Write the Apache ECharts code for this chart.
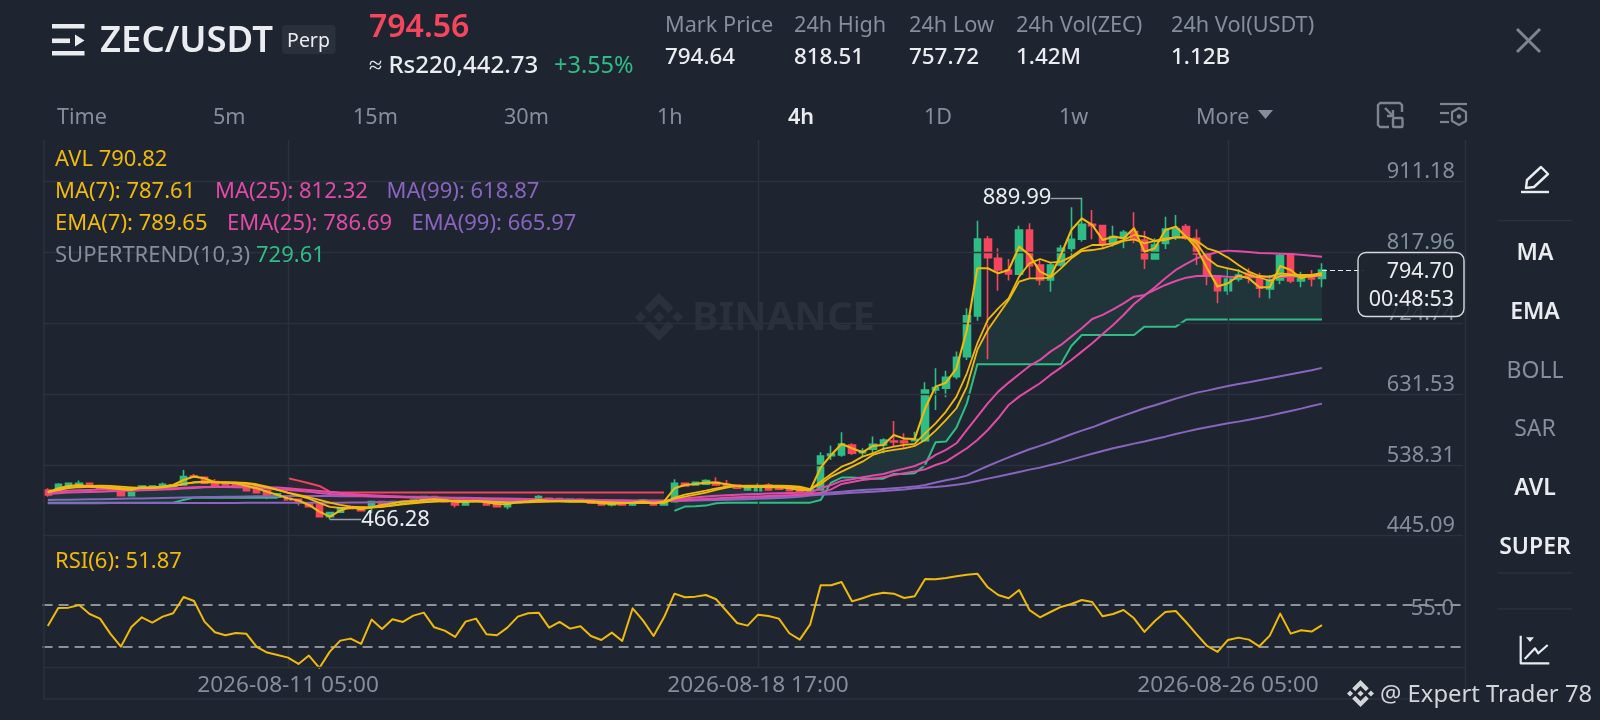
<!DOCTYPE html>
<html><head><meta charset="utf-8">
<script src="https://cdn.jsdelivr.net/npm/echarts@6/dist/echarts.min.js"></script>
<style>html,body{margin:0;padding:0;background:#1e2530}#c{width:1600px;height:720px}</style>
</head><body><div id="c"></div>
<script>
const tickIndexes=[23,68,113];
const timeLabels=['2026-08-11 05:00','2026-08-18 17:00','2026-08-26 05:00'];
const priceTicks=[911.18,817.96,724.74,631.53,538.31,445.09];
const rsiBands=[55,48.55];
const rsiLabels=[55];
// [open, close, low, high]
const candles=[
[505.2,498.6,496.4,507.4],[504.3,512.7,503,514],[509.6,514,508.7,515],[510.5,514,509.6,517.5],[514,510.5,509.6,514.5],[510.5,507.4,507,511],[508.7,505.2,504.5,509.6],[505.2,497.7,497,506],[497.7,501.7,497,502.5],[506.1,510.5,505.5,511.5],
[508.7,510.5,508,511],[510.5,512.7,510,514.9],[509.6,511.8,509,512.5],[511.8,522.8,511,531.5],[523.6,521.9,521,526.3],[521.9,514,513.5,522.5],[516.2,509.6,509,519.7],[514,511.8,511,514.9],[514,510.5,510,514.9],[511.8,504.3,503.5,512.5],
[508.7,501.7,501,509.6],[504.3,498.6,492.9,505],[495.6,500,495,500.8],[494.2,492,491,495],[492.9,488.5,484.6,493.5],[487.7,483.3,482.5,488.5],[486.8,470.1,469.5,487.7],[470.1,475.4,466.28,476],[475.8,481.1,475,482],[483.3,480.6,480,484],
[482.4,478,477.5,483],[483.3,489.9,474.5,490.7],[489.9,485.5,485,490.7],[486.8,489.9,486,490.7],[487.7,489.9,487,490.5],[488.5,492,488,492.9],[492,496.4,491,497.5],[496.4,492,491.5,497],[494.2,489.9,489,495],[489.9,485.5,482,490.5],
[485.5,489.9,485,490.5],[489.9,492,489.5,492.9],[489.9,485.5,485,490.5],[487.7,483.3,483,488.5],[483.3,487.7,479.8,488],[488.5,492,488,492.9],[489.9,492,489.5,492.5],[492.9,496.4,492.5,498.6],[494.2,491.2,490.7,494.7],[494,491.2,490.8,494.5],
[490.7,492.9,490.5,493.5],[492.9,490.7,490.3,493.4],[492,487.7,487.2,492.5],[489.9,485.5,485,490.3],[485.5,487.7,483.3,488],[489.9,485.5,485,490.3],[485.5,488.5,484.1,489],[488.5,492,488,492.5],[488.5,485.5,485,489],[485.5,489.9,485,490.5],
[489.9,514,489.5,519.3],[514,510.5,510,514.5],[511.8,515.3,511,516],[512.7,517.5,512,519.3],[515.3,511.8,511,521.9],[512.7,509.6,509,518.4],[511.8,507.4,507,512.5],[505.2,509.6,505,510],[504.3,510.5,504,514],[511.8,505.2,504.5,514],
[510.5,506.1,505.5,511],[508.7,504.3,504,509],[507.4,503,502.5,508],[503,506.1,502.5,506.5],[505.2,550,504.3,554.8],[550.4,552.6,544.7,563.6],[551.3,565.8,549.1,581.2],[564.5,553.5,551.3,566.7],[554.4,556.6,550,560.1],[558.8,565.4,553.5,575.5],
[564.5,571,553.5,573.3],[569.7,568.4,562.3,596.1],[569.7,567.6,560.1,579.8],[570.2,571.9,568.9,582],[570.2,636.9,569.7,647],[636.9,640,610.6,665.4],[639.1,653.6,627.2,662.3],[654.5,679.9,650.9,687.4],[680.8,734.4,676.4,744.4],[734.4,835.7,728.2,859.9],
[835.7,811.2,677.3,839.7],[810.3,794.9,767.7,823.4],[794.9,789.6,780.9,809.4],[789.2,847.6,788.3,853.3],[847.6,800.6,783.1,856.4],[801.5,781.7,774.7,808.1],[781.7,801.5,766.4,803.7],[801.5,823.4,799.3,827.8],[823.4,835.3,812.5,877.4],[835.3,855,832.2,889.99],
[855,853.3,835.3,873.9],[853.3,830,823.4,853.8],[830,838.8,825.7,853.3],[837.9,844.5,823.4,847.6],[845.4,835.3,830,870.8],[834.4,809.8,796.2,846.3],[809.4,827.8,809,836.6],[830,848.9,822.6,865.1],[837.9,848.9,834.4,867.3],[852,836.6,834.4,855.5],
[836.6,816,801.5,848.5],[816,787.4,774.7,819],[787.4,767.7,751,788.3],[767.7,783.1,762,797.1],[783.1,788.3,779.6,795.8],[790.5,785.3,777.4,797.1],[785.3,770.8,758.5,791.4],[769.9,781.7,757.2,788.3],[781.7,813.8,776,818.2],[816,780.4,777.4,816.5],
[780.4,786.1,772.1,792.7],[788.3,783.1,773,794.9],[783.9,794.7,772.1,803.7]];
const avl=[501.7,507.4,510.5,511.8,509.6,508.7,507.4,506.1,505.2,508.7,508.3,509.6,511.8,518.4,522.8,520.6,515.3,514.9,514,510.5,507.4,503,498.6,494.2,491.2,485.5,476.7,470.1,478,482.4,479.8,482.4,485.5,487.7,489.9,490.7,492,492.9,492,489.9,489.4,490.7,489,486.8,486.3,489.4,490.3,492,490.7,490.3,489.9,489.9,489,487.7,486.8,487.7,488.5,489.9,487.7,489.9,507.4,511.8,513.1,514.9,514.9,512.7,510.5,508.7,509.6,508.7,508.7,507.4,505.2,505.2,534.6,551.3,565.8,560.1,554.8,563.2,564.5,577.6,572.8,572.4,612.8,641.3,646.5,665.4,715.9,797.1,797.1,790.5,794.9,825.7,814.7,792.7,786.1,814.7,847.6,862.9,854.2,834.4,838.8,836.6,849.8,819,823.4,847.6,852,838.8,823.4,797.1,773,777.4,787.4,783.9,772.1,772.1,800.2,794.9,783.9,788.3,790.82];
const ma7=[503,506.1,508.3,509.6,510.5,510.9,510.5,509.6,508.7,507.8,507.8,508.7,510.5,513.1,514.9,515.7,515.3,515.3,515.3,514.4,512.7,509.6,505.2,501.7,498.6,495.6,492,488.5,485.5,483.3,482.4,482.4,483.3,485,486.8,488.5,489.5,490.3,491,491,490.7,490.5,490.2,489.5,488.9,488.9,488.9,489.4,489.9,490.4,490.7,490.7,490.3,489.4,488.8,488.5,488,488,488,488.2,493.8,496.4,499,501.7,505.2,508.3,510.5,510.9,510.9,511,511,510.5,509.6,506.3,513.1,522.8,529.4,535.9,542.5,551.3,555.7,557.9,560.1,563.2,571,583.3,597.4,612.8,641.3,689.6,715.9,735.7,755.4,779.6,783.9,783.9,784.8,797.1,810.3,819.9,821.2,823.4,827.8,833.1,835.3,830,833.1,836.6,837.9,837.9,833.5,823.4,819,811.2,801.5,792.7,787,786.1,790.5,789.2,788.3,788.3,787.61];
const ema7=[502.5,505,507.5,508.8,509.2,509.2,508.7,507.8,507.3,507.8,508.3,509,510,512.8,515.5,516.2,515.6,515.3,514.8,513.4,511.4,508.7,505.2,501.3,497.8,493.8,488.3,483,481.7,481.9,481.2,481.8,483,484.6,486.2,487.4,488.9,489.8,490.3,490.2,490,490.1,489.9,489,488.4,488.7,489.1,490,490.2,490.3,490.2,490.1,489.8,489.2,488.6,488.3,488.3,488.7,488.4,488.8,495.1,499,501.7,504.3,507.4,509.6,510.5,510,510,509.6,509.4,508.8,507.9,506,516.2,526.3,535.9,541.2,549.1,553.5,559.2,562.3,564.5,565.8,579.8,593,608.4,628.1,658.8,698.4,729.1,744.4,757.6,786.1,803.7,809.4,804.6,805.9,812.5,822.1,827.8,827.8,830,834.4,841,838.8,833.1,834.4,837.9,837.9,830,810.3,800.2,797.1,794,788.3,785.3,780.4,787,788.3,786.1,786.1,789.65];
const ma25=[500,500.8,501.7,502.2,502.6,503,503.4,503.9,504.3,504.8,505.2,505.7,506.1,507,507.8,508.7,509.2,509.6,509.6,509.6,509.2,508.7,508.3,507.4,506.1,505,503.9,502.6,501.3,500,499,498.2,497.7,497,496.4,495.6,494.9,494.6,494.4,494.2,494,494,493.7,493.5,493.2,492.9,492.6,492.4,492.2,492,491.8,491.6,491.4,491.2,491,490.8,490.6,490.5,490.4,490.4,491,491.8,492.5,493.2,494,494.8,495.5,496.1,496.7,497.3,497.8,498.2,498.8,499.5,501.7,506,513.1,515.8,518.4,520.1,521.9,525,527.2,529.4,532.4,538.1,542.5,551.3,560.1,571,584.2,599.6,617.2,628.1,636.9,645.7,656.7,666.3,676.4,687.4,698.4,710.6,722.5,735.7,750.1,761.1,772.1,783.9,794.9,802.8,810.3,814.7,818.6,820.4,819.5,818.6,817.3,816.9,816.4,816,815.1,813.8,812.32];
const ema25=[501.7,503,504.3,504.8,505.2,505.7,506.1,506.1,506,506.1,506.1,506.5,507,508,508.7,509,509,509,508.7,508.3,507.8,507,506,505.2,504.3,503,501.3,500,499,498,497.5,497,496.4,496,495.6,495.1,494.7,494.4,494.2,494,493.7,493.5,493.2,493,492.7,492.5,492.3,492.2,492.2,492.1,492,492,491.8,491.6,491.4,491.2,491,491,490.9,490.9,492.5,494,495.3,496.5,497.6,498.2,499,499.5,500,500.5,500.9,501.3,501.5,501.7,507.4,511.8,517.1,519.3,521.9,524.1,526.3,530.2,533.3,536.8,542.5,551.3,557.9,566.7,584.2,601.8,619.3,634.7,646.6,657.5,668.5,676.4,687.4,696.2,707.1,718.1,730.4,735.7,743.1,751,759.8,762,768.6,775.2,780.4,784.8,787,787.4,787,786.1,785.7,785.3,785.3,785.3,785.7,786.1,786.6,786.6,786.69];
const ma99=[487.7,487.7,487.7,487.8,487.8,487.8,487.9,487.9,487.9,487.9,488,488,488,488,488.1,488.1,488.1,488.1,488.1,488.2,488.2,488.2,488.2,488.3,488.3,488.3,488.4,488.4,488.5,488.6,488.7,488.9,489.2,489.5,489.8,490.1,490.4,490.6,490.8,490.9,491,491,491,491,491,491,491,491,491,491,491,491,490.9,490.9,490.8,490.8,490.7,490.7,490.7,490.7,490.8,491,491.3,491.6,491.9,492.2,492.7,493.1,493.6,494,494.6,495.4,496.4,497.8,498.8,499.7,500.5,501.4,502.2,503,503.9,504.8,505.8,507.4,508.3,509.2,510.5,512.2,514,517.1,520.1,522.8,525.8,528.9,532,534.6,538.1,541.2,545.1,549.1,553,556.6,560.1,563.2,566.2,568.9,572.4,575.4,579,582,585.1,587.7,590.4,593,595.2,597.8,600.4,603.1,606.2,609.2,612.3,615.8,618.87];
const ema99=[492,492.2,492.4,492.6,492.8,493,493.3,493.5,493.8,494,494.3,494.7,495.1,495.4,495.6,495.8,496,496.2,496.4,496.6,496.8,497,497.1,497.2,497.3,497.3,497.3,497.1,497,496.9,496.8,496.7,496.6,496.5,496.4,496.4,496,495.7,495.4,495,494.8,494.6,494.4,494.1,493.8,493.6,493.4,493.2,493,492.8,492.6,492.4,492.2,492,491.8,491.6,491.4,491.4,491.3,491.2,491.3,491.6,491.9,492.2,492.5,493.1,493.8,494.4,495,495.6,496.3,497.2,498.2,500,501,502,503,504,505,505.8,506.6,507.6,508.6,509.6,511.8,514.9,517.9,520.6,524.1,530.7,536.8,542.5,548.2,553.5,558.8,563.2,568,573.3,578.5,583.3,587.7,593,598.3,603.1,607.9,612.8,616.7,621.1,625.5,629.4,633.4,636,639.1,642.2,644.8,647,649.6,652.3,654.9,657.5,660.2,662.8,665.97];
const superUp=[488.5,488.5,488.5,488.5,488.5,488.5,488.5,488.5,488.5,488.5,488.5,488.5,488.5,492,495.1,495.1,495.1,495.1,495.1,495.1,495.1,495.1,495.1,null,null,null,null,null,null,null,null,null,null,null,null,null,null,null,null,null,null,null,null,null,null,null,null,null,null,null,null,null,null,null,null,null,null,null,null,null,477.6,483.3,483.7,484.6,487.7,488.5,488.5,488.5,488.5,488.5,488.5,488.5,488.5,488.5,492,514.9,521.5,521.5,520.6,520.1,520.1,526.3,526.3,527.2,538.1,568,568.9,587.3,619.3,670.7,670.7,670.7,670.7,670.7,670.7,670.7,670.7,670.7,694.8,709.3,709.3,709.3,709.3,709.3,709.3,720.3,720.3,720.3,720.3,729.61,729.61,729.61,729.61,729.61,729.61,729.61,729.61,729.61,729.61,729.61,729.61,729.61,729.61];
const superDown=[null,null,null,null,null,null,null,null,null,null,null,null,null,null,null,null,null,null,null,null,null,null,null,520.6,517.5,514,510.5,503,501.7,501.7,501.7,501.7,501.7,501.7,501.7,501.7,501.7,501.7,501.7,501.7,501.7,501.7,501.7,501.7,501.7,501.7,501.7,501.7,501.7,501.7,501.7,501.7,501.7,501.7,501.7,501.7,501.7,501.7,501.7,501.7];
const rsi=[51.73,54.45,54.5,54.9,53.54,52.84,50.53,48.61,51.58,53.04,52.24,53.14,53.64,56.11,55.5,52.39,50.78,50.32,50.67,50.57,48.56,47.71,47.36,46.95,46,47.26,45.39,47.86,49.52,49.82,49.02,52.69,51.28,52.74,52.34,53.29,53.74,51.53,51.03,50.07,52.39,52.84,50.47,50.32,51.48,53.14,53.64,53.74,51.48,52.34,51.33,51.68,50.22,49.62,50.73,49.47,54.4,52.54,50.22,53.04,56.61,56.06,56.16,56.41,55.76,53.95,52.18,51.78,53.44,53.24,52.84,50.63,49.67,51.98,57.87,57.87,58.37,55.45,55.91,56.46,56.76,56.61,55.96,56.21,58.82,58.77,58.97,59.23,59.48,59.63,57.57,56.41,55.91,57.16,54.12,53.04,53.84,54.6,55.05,55.66,55.35,53.19,53.54,54.15,52.89,50.83,52.49,53.84,53.99,52.29,50.47,48.71,47.81,49.62,49.97,49.67,48.66,50.27,53.59,50.57,51.08,50.88,51.87];
const highMark={i:99,v:889.99,end:96,label:'889.99'};
const lowMark={i:27,v:466.28,end:30,label:'466.28'};
const lastPrice={i:122,v:794.7,end:126};

const FONT='"Noto Sans"';
const GREEN='#2ebd85',RED='#f6465d',YEL='#f0b90b',PINK='#e24aa8',PUR='#8a64bf',GRAY='#848e9c',WHITE='#eaecef',GRID='#2b323d';
const slots=136;
const categories=[];
for(let i=0;i<slots;i++){const d=new Date(Date.UTC(2026,7,7,9)+i*4*3600e3);
  const p=n=>String(n).padStart(2,'0');
  categories.push(d.getUTCFullYear()+'-'+p(d.getUTCMonth()+1)+'-'+p(d.getUTCDate())+' '+p(d.getUTCHours())+':00');}

const L=42.6,W=slots*10.444;
const fillTop=ma7.map((v,i)=>Math.min(v,ema7[i]));
const up=superUp.map((v,i)=>v==null?null:Math.max(0,fillTop[i]-v));
const dnBase=superDown.map((v,i)=>v==null?null:fillTop[i]);
const dn=superDown.map((v,i)=>v==null?null:Math.max(0,v-fillTop[i]));

function ln(name,data,color,width,z){return {name,type:'line',data,showSymbol:false,symbol:'none',smooth:false,
  lineStyle:{color,width:width||2,join:'round'},itemStyle:{color},z:z||5,silent:true,animation:false,connectNulls:false};}
function band(name,data,stack,area){return {name,type:'line',data,stack,stackStrategy:'all',showSymbol:false,symbol:'none',
  lineStyle:{width:0,opacity:0},areaStyle:area?{color:area,opacity:1}:{opacity:0},z:1,silent:true,animation:false};}

const gridMark=(arr,axis,color)=>arr.map(v=>({[axis]:v,lineStyle:{color,width:1.4,type:'solid'}}));

const texts=[];
function T(text,x,y,size,fill,opt){texts.push({type:'text',z:100,silent:true,style:{text,x,y,fill,font:(opt&&opt.weight||'400')+' '+size+'px '+FONT,textVerticalAlign:'middle',textAlign:(opt&&opt.align)||'left'}});}
T('ZEC/USDT',100,42,36.5,WHITE,{weight:'600'});
T('794.56',369,28,32,RED,{weight:'600'});
T('≈ Rs220,442.73',369,66.5,24,WHITE,{weight:'500'});
T('+3.55%',554,66.5,23.5,GREEN);
[['Mark Price','794.64',665],['24h High','818.51',794],['24h Low','757.72',909],['24h Vol(ZEC)','1.42M',1016],['24h Vol(USDT)','1.12B',1171]].forEach(r=>{
  T(r[0],r[2],26,21.7,GRAY);T(r[1],r[2],58,22.4,WHITE,{weight:'500'});});
[['Time',57],['5m',213],['15m',353],['30m',504],['1h',657],['1D',924],['1w',1059],['More',1196]].forEach(r=>T(r[0],r[1],118,21.6,GRAY));
T('4h',788,118,21.6,WHITE,{weight:'600'});
T('AVL 790.82',55,160,22,YEL);
T('MA(7): 787.61',55,191.7,22,YEL);T('MA(25): 812.32',215,191.7,22,PINK);T('MA(99): 618.87',386.5,191.7,22,PUR);
T('EMA(7): 789.65',55,223.7,22,YEL);T('EMA(25): 786.69',227,223.7,22,PINK);T('EMA(99): 665.97',411.4,223.7,22,PUR);
T('SUPERTREND(10,3)',55,256,22,GRAY);T('729.61',256,256,22,GREEN);
T('RSI(6): 51.87',55,562,22,YEL);
[['MA',253,WHITE,'600'],['EMA',312,WHITE,'600'],['BOLL',371,GRAY,'400'],['SAR',429,GRAY,'400'],['AVL',488,WHITE,'600'],['SUPER',547,WHITE,'600']].forEach(r=>T(r[0],1535,r[1],23,r[2],{align:'center',weight:r[3]}));
T('Perp',308.5,41,19.5,WHITE,{align:'center'});
T('794.70',1454,271.5,21.5,WHITE,{align:'right'});
T('00:48:53',1454,300,21.5,WHITE,{align:'right'});
T('@ Expert Trader 78',1380,695,23.8,'#d3d5d9');

const LOGO=[[[38.73,53.2],[63.32,28.62],[87.92,53.22],[102.22,38.91],[63.32,0],[24.42,38.9]],[[0,63.31],[14.3,49],[28.61,63.31],[14.3,77.61]],[[38.73,73.42],[63.32,98.01],[87.92,73.41],[102.23,87.7],[63.33,126.61],[24.42,87.73]],[[97.94,63.32],[112.25,49.01],[126.55,63.32],[112.25,77.62]],[[77.83,63.3],[63.32,48.78],[48.81,63.28],[63.32,77.81]]];
const logo=(x,y,s,fill,z)=>LOGO.map(pts=>({type:'polygon',z,silent:true,shape:{points:pts.map(p=>[x+p[0]*s/126.6,y+p[1]*s/126.6])},style:{fill}}));
const seg=(x1,y1,x2,y2,color,w)=>({type:'line',z:90,silent:true,shape:{x1,y1,x2,y2},style:{stroke:color,lineWidth:w||1.4}});
const rect=(x,y,w,h,fill,r)=>({type:'rect',z:90,silent:true,shape:{x,y,width:w,height:h,r:r||0},style:{fill}});
const poly=(points,fill)=>({type:'polygon',z:90,silent:true,shape:{points},style:{fill}});
const pl=(points,stroke,w)=>({type:'polyline',z:90,silent:true,shape:{points},style:{stroke,lineWidth:w||2.2,fill:'none',lineJoin:'round'}});
const pg=(points,stroke,w)=>({type:'polygon',z:90,silent:true,shape:{points},style:{stroke,lineWidth:w||2.2,fill:'none',lineJoin:'round'}});
const shapes=[
  ...logo(635,293,48,'#2a303c',0),
  {type:'text',z:0,silent:true,style:{text:'BINANCE',x:692,y:319,fill:'#2a303c',font:'700 40px "Noto Sans"',textVerticalAlign:'middle'}},
  seg(44,140,44,699,GRID),seg(1465.5,140,1465.5,699,GRID),seg(44,699,1465.5,699,GRID),seg(44,667.5,1465.5,667.5,GRID),
  rect(52,24,32.5,4.6,WHITE),rect(52,38.5,18,4.6,WHITE),rect(52,51,32.5,4.6,WHITE),poly([[75,34.5],[84.5,40.5],[75,46.5]],WHITE),
  rect(282,25,53.5,29,'#2b313c',4),
  poly([[1258,110],[1273,110],[1265.5,119]],GRAY),
  pl([[1517,29],[1540,52]],'#7d8590',3),pl([[1540,29],[1517,52]],'#7d8590',3),
  pl([[1378,116],[1378,105],[1380,103],[1400,103],[1402,105],[1402,112]],'#7d8590',2.4),
  pl([[1378,116],[1378,125],[1380,127],[1389,127]],'#7d8590',2.4),
  pl([[1385,108],[1393,116]],'#7d8590',2.4),pl([[1393,110],[1393,116],[1387,116]],'#7d8590',2.4),
  {type:'rect',z:90,silent:true,shape:{x:1393,y:118,width:9.5,height:9,r:1},style:{stroke:'#7d8590',lineWidth:2.4,fill:'none'}},
  seg(1440,104,1467,104,'#7d8590',2.2),seg(1440,113,1449,113,'#7d8590',2.2),seg(1440,122,1449,122,'#7d8590',2.2),
  pg([[1459,108],[1466,112],[1466,121],[1459,125],[1452,121],[1452,112]],'#7d8590',2.2),
  {type:'circle',z:90,silent:true,shape:{cx:1459,cy:116.5,r:2.2},style:{fill:'#7d8590'}},
  pg([[1527,180],[1541,167],[1548,174],[1534,187],[1526,188]],WHITE,2.4),seg(1521,192,1549,192,WHITE,2.4),
  seg(1498,220.6,1572,220.6,GRID),seg(1498,573,1572,573,GRID),seg(1498,609,1572,609,GRID),
  pl([[1520.7,635.7],[1520.7,663.3],[1549.3,663.3]],WHITE,2.2),pl([[1524.7,659],[1535,648.3],[1538.3,653.3],[1547.7,645]],WHITE,2.2),poly([[1526,637.3],[1534,637.3],[1530,642]],WHITE),
  ...logo(1347,680,27,'#d3d5d9',95),
  {type:'rect',z:98,silent:true,shape:{x:1358,y:252.5,width:106,height:64,r:8},style:{fill:'rgba(30,37,48,0.86)',stroke:'#d7d9dc',lineWidth:1.4}}
];

const option={
  backgroundColor:'#1e2530',animation:false,
  textStyle:{fontFamily:FONT},
  grid:[{left:L,width:W,top:140,height:401},{left:L,width:W,top:541,height:126.5}],
  xAxis:[
    {type:'category',gridIndex:0,data:categories,boundaryGap:true,axisLine:{show:false},axisTick:{show:false},axisLabel:{show:false},splitLine:{show:false}},
    {type:'category',gridIndex:1,data:categories,boundaryGap:true,axisLine:{show:false},axisTick:{show:false},splitLine:{show:false},
     axisLabel:{color:GRAY,fontSize:22.6,fontFamily:FONT,margin:7,interval:i=>tickIndexes.includes(i),formatter:(v,i)=>{const k=tickIndexes.indexOf(i);return k>=0?timeLabels[k]:'';}}}
  ],
  yAxis:[
    {type:'value',gridIndex:0,position:'right',min:437.98,max:966.09,scale:true,splitLine:{show:false},axisLine:{show:false},axisTick:{show:false},
     axisLabel:{inside:true,customValues:priceTicks,color:GRAY,fontSize:21.8,fontFamily:FONT,margin:8,align:'right',verticalAlign:'bottom',lineHeight:19,formatter:v=>v.toFixed(2)}},
    {type:'value',gridIndex:1,position:'right',min:45.46,max:64.56,scale:true,splitLine:{show:false},axisLine:{show:false},axisTick:{show:false},
     axisLabel:{inside:true,customValues:rsiLabels,color:GRAY,fontSize:21.8,fontFamily:FONT,margin:9,align:'right',verticalAlign:'top',lineHeight:8,formatter:v=>v.toFixed(1)}}
  ],
  series:[
    {name:'frame',type:'line',data:[],xAxisIndex:0,yAxisIndex:0,z:1,silent:true,animation:false,
     markLine:{silent:true,symbol:'none',animation:false,label:{show:false},data:[...gridMark(priceTicks,'yAxis',GRID),...gridMark(tickIndexes,'xAxis',GRID)]}},
    {name:'frame2',type:'line',data:[],xAxisIndex:1,yAxisIndex:1,z:1,silent:true,animation:false,
     markLine:{silent:true,symbol:'none',animation:false,label:{show:false},data:gridMark(tickIndexes,'xAxis',GRID)}},
    {name:'bandBands',type:'line',data:[],xAxisIndex:1,yAxisIndex:1,z:3,silent:true,animation:false,
     markLine:{silent:true,symbol:'none',animation:false,label:{show:false},data:rsiBands.map(v=>({yAxis:v,lineStyle:{color:'#8f9297',width:2,type:[10,6]}}))}},
    band('upBase',superUp,'u',null),band('upFill',up,'u','rgba(46,189,133,0.11)'),
    band('dnBase',dnBase,'d',null),band('dnFill',dn,'d','rgba(246,70,93,0.09)'),
    {name:'ZEC/USDT',type:'candlestick',data:candles,barWidth:7,z:3,silent:true,animation:false,
     itemStyle:{color:GREEN,color0:RED,borderColor:GREEN,borderColor0:RED,borderWidth:1.6},
     markPoint:{silent:true,symbol:'circle',symbolSize:0,animation:false,data:[
       {coord:[highMark.end,highMark.v],label:{show:true,formatter:highMark.label,position:'left',distance:-1,color:WHITE,fontSize:22,fontFamily:FONT}},
       {coord:[lowMark.end,lowMark.v],label:{show:true,formatter:lowMark.label,position:'right',distance:0,color:WHITE,fontSize:22,fontFamily:FONT}}]},
     markLine:{silent:true,symbol:'none',animation:false,label:{show:false},data:[
       [{coord:[highMark.i,highMark.v],lineStyle:{color:'#9a9fa6',width:1.4,type:'solid'}},{coord:[highMark.end,highMark.v]}],
       [{coord:[lowMark.i,lowMark.v],lineStyle:{color:'#9a9fa6',width:1.4,type:'solid'}},{coord:[lowMark.end,lowMark.v]}],
       [{coord:[lastPrice.i,lastPrice.v],lineStyle:{color:'#e6e8ea',width:1.2,type:[5,3]}},{coord:[lastPrice.end,lastPrice.v]}]]}},
    ln('SUPERTREND up',superUp,GREEN,2,4),ln('SUPERTREND down',superDown,'#ee4560',2,4),
    ln('MA(99)',ma99,PUR,2,5),ln('EMA(99)',ema99,PUR,2,5),
    ln('MA(25)',ma25,PINK,2,6),ln('EMA(25)',ema25,PINK,2,6),
    ln('MA(7)',ma7,YEL,1.8,7),ln('EMA(7)',ema7,YEL,1.8,7),ln('AVL',avl,YEL,2.1,8),
    Object.assign(ln('RSI(6)',rsi,YEL,2,8),{xAxisIndex:1,yAxisIndex:1,clip:false})
  ],
  graphic:{elements:[...shapes,...texts]}
};
echarts.init(document.getElementById('c'),null,{renderer:'canvas'}).setOption(option);
</script></body></html>
